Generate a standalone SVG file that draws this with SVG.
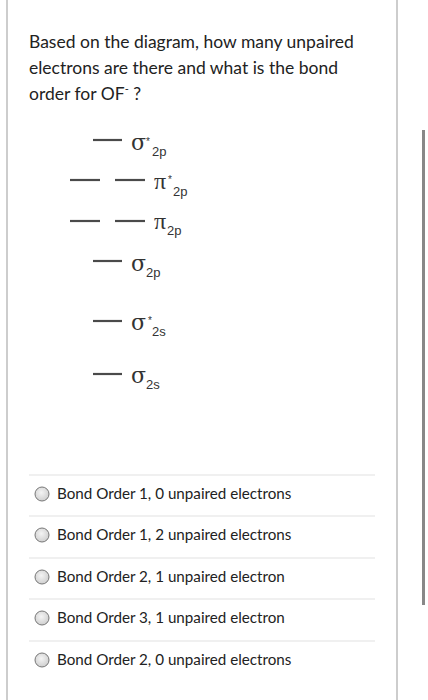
<svg xmlns="http://www.w3.org/2000/svg" width="428" height="700" viewBox="0 0 428 700">
<defs>
<radialGradient id="rg" cx="0.45" cy="0.4" r="0.6">
<stop offset="0" stop-color="#f4f4f4"/>
<stop offset="1" stop-color="#cfcfcf"/>
</radialGradient>
</defs>
<style>
.q{font-family:Lato,"Open Sans",sans-serif;font-size:17.5px;fill:#222}
.o{font-family:Lato,"Open Sans",sans-serif;font-size:15.2px;fill:#222}
.lvl{stroke:#4a4a4a;stroke-width:2.2}
.g{font-family:"DejaVu Serif",serif;font-size:22px;fill:#333}
.p{font-family:"Liberation Serif",serif;font-size:24px;fill:#333}
.s{font-family:"Liberation Sans",Arial,sans-serif;font-size:13px;fill:#333}
.st{font-family:"Liberation Sans",Arial,sans-serif;font-size:10px;fill:#333}
.sep{stroke:#e2e2e2;stroke-width:1.2}
.rad{fill:url(#rg);stroke:#777;stroke-width:1}
.bd{stroke:#bdbdbd;stroke-width:1.5}
</style>
<rect width="428" height="700" fill="#fff"/>
<line class="bd" x1="7" y1="0" x2="7" y2="700"/>
<line class="bd" x1="397" y1="0" x2="397" y2="700"/>
<line x1="423.5" y1="130" x2="423.5" y2="605" stroke="#888" stroke-width="3"/>
<g id="question">
<text class="q" x="29" y="48">Based on the diagram, how many unpaired</text>
<text class="q" x="29" y="74">electrons are there and what is the bond</text>
<text class="q" x="29" y="100">order for OF<tspan font-size="11" dy="-7">-</tspan><tspan dy="7"> ?</tspan></text>
</g>
<g id="sigma-star-2p">
<line class="lvl" x1="93" y1="140" x2="122" y2="140"/>
<text class="g" x="131" y="150">σ</text>
<text class="st" x="146" y="145">*</text>
<text class="s" x="152" y="156">2p</text>
</g>
<g id="pi-star-2p">
<line class="lvl" x1="70" y1="180" x2="100" y2="180"/>
<line class="lvl" x1="115" y1="180" x2="145" y2="180"/>
<text class="p" x="154" y="189">π</text>
<text class="st" x="168" y="183">*</text>
<text class="s" x="173" y="196">2p</text>
</g>
<g id="pi-2p">
<line class="lvl" x1="70" y1="221" x2="100" y2="221"/>
<line class="lvl" x1="115" y1="221" x2="145" y2="221"/>
<text class="p" x="154" y="229">π</text>
<text class="s" x="167" y="235">2p</text>
</g>
<g id="sigma-2p">
<line class="lvl" x1="93" y1="261" x2="122" y2="261"/>
<text class="g" x="131" y="271">σ</text>
<text class="s" x="146" y="277">2p</text>
</g>
<g id="sigma-star-2s">
<line class="lvl" x1="93" y1="321" x2="122" y2="321"/>
<text class="g" x="131" y="330">σ</text>
<text class="st" x="148" y="324">*</text>
<text class="s" x="152" y="336">2s</text>
</g>
<g id="sigma-2s">
<line class="lvl" x1="93" y1="374" x2="122" y2="374"/>
<text class="g" x="131" y="383">σ</text>
<text class="s" x="146" y="389">2s</text>
</g>
<g id="options">
<line class="sep" x1="29" y1="475" x2="375" y2="475"/>
<line class="sep" x1="29" y1="516" x2="375" y2="516"/>
<line class="sep" x1="29" y1="558" x2="375" y2="558"/>
<line class="sep" x1="29" y1="599" x2="375" y2="599"/>
<line class="sep" x1="29" y1="641" x2="375" y2="641"/>
<g id="opt1"><circle class="rad" cx="42" cy="494" r="7"/><text class="o" x="57" y="499">Bond Order 1, 0 unpaired electrons</text></g>
<g id="opt2"><circle class="rad" cx="42" cy="535" r="7"/><text class="o" x="57" y="540">Bond Order 1, 2 unpaired electrons</text></g>
<g id="opt3"><circle class="rad" cx="42" cy="577" r="7"/><text class="o" x="57" y="582">Bond Order 2, 1 unpaired electron</text></g>
<g id="opt4"><circle class="rad" cx="42" cy="618" r="7"/><text class="o" x="57" y="623">Bond Order 3, 1 unpaired electron</text></g>
<g id="opt5"><circle class="rad" cx="42" cy="660" r="7"/><text class="o" x="57" y="665">Bond Order 2, 0 unpaired electrons</text></g>
</g>
</svg>
